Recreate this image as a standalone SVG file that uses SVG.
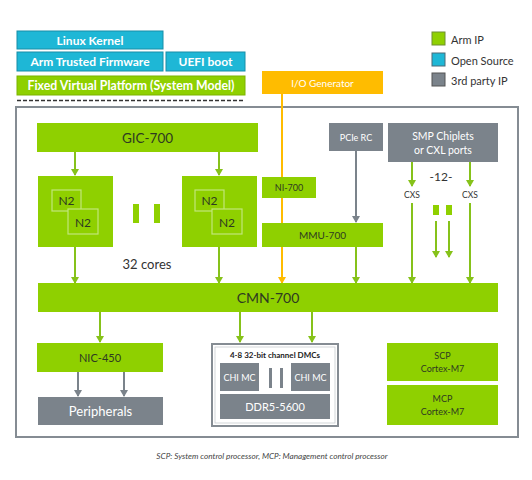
<svg xmlns="http://www.w3.org/2000/svg" width="532" height="480" viewBox="0 0 532 480">
<defs>
<style>
text{font-family:Lato,"Open Sans","Liberation Sans",sans-serif;text-anchor:middle;dominant-baseline:central}
.g{fill:#8fd000}
.gb{fill:#8fd000;stroke:#7cb300;stroke-width:1}
.c{fill:#1eb7d6;stroke:#178ea8;stroke-width:1}
.gr{fill:#7b838b}
.dk{fill:#2e3a20}
.wt{fill:#ffffff}
.n2{fill:#8fd000;stroke:#c2e67a;stroke-width:1.2}
.ag{stroke:#86c21a;stroke-width:2;fill:none}
.ao{stroke:#ffbc00;stroke-width:2;fill:none}
.ay{stroke:#7b838b;stroke-width:2;fill:none}
</style>
<marker id="mg" markerWidth="8" markerHeight="8" refX="6" refY="4" orient="auto" markerUnits="userSpaceOnUse"><path d="M0,0 L7,4 L0,8 Z" fill="#86c21a"/></marker>
<marker id="mo" markerWidth="8" markerHeight="8" refX="6" refY="4" orient="auto" markerUnits="userSpaceOnUse"><path d="M0,0 L7,4 L0,8 Z" fill="#ffbc00"/></marker>
<marker id="my" markerWidth="8" markerHeight="8" refX="6" refY="4" orient="auto" markerUnits="userSpaceOnUse"><path d="M0,0 L7,4 L0,8 Z" fill="#7b838b"/></marker>
</defs>
<rect width="532" height="480" fill="#ffffff"/>

<g id="sw-stack">
<rect class="c" x="17" y="31" width="146" height="18"/>
<text class="wt" x="90" y="40" font-size="12" font-weight="bold">Linux  Kernel</text>
<rect class="c" x="17" y="52" width="146" height="19"/>
<text class="wt" x="90" y="61.5" font-size="12" font-weight="bold">Arm Trusted Firmware</text>
<rect class="c" x="166" y="52" width="79" height="19"/>
<text class="wt" x="205.5" y="61.5" font-size="12" font-weight="bold">UEFI boot</text>
<rect class="gb" x="17" y="76" width="228" height="19"/>
<text class="wt" x="131" y="85.5" font-size="12.3" font-weight="bold">Fixed Virtual Platform (System Model)</text>
<line x1="17" y1="100.5" x2="245" y2="100.5" stroke="#333" stroke-width="1.5" stroke-dasharray="4,2"/>
</g>

<g id="legend">
<rect x="432" y="32" width="13" height="13" fill="#8fd000" stroke="#6f8f30"/>
<text x="451" y="39" font-size="11" fill="#333" style="text-anchor:start">Arm IP</text>
<rect x="432" y="53" width="13" height="13" fill="#1eb7d6" stroke="#4a6b78"/>
<text x="451" y="60" font-size="11" fill="#333" style="text-anchor:start">Open Source</text>
<rect x="432" y="73" width="13" height="13" fill="#7b838b" stroke="#555"/>
<text x="451" y="80" font-size="11" fill="#333" style="text-anchor:start">3rd party IP</text>
</g>

<g id="frame">
<rect x="16" y="107" width="502" height="330" fill="#ffffff" stroke="#858c93" stroke-width="2"/>
</g>

<g id="connectors">
<line class="ao" x1="282" y1="94" x2="282" y2="283" marker-end="url(#mo)"/>
<line class="ag" x1="75" y1="152" x2="75" y2="175" marker-end="url(#mg)"/>
<line class="ag" x1="219" y1="152" x2="219" y2="175" marker-end="url(#mg)"/>
<line class="ag" x1="75" y1="247" x2="75" y2="283" marker-end="url(#mg)"/>
<line class="ag" x1="219" y1="247" x2="219" y2="283" marker-end="url(#mg)"/>
<line class="ay" x1="356" y1="151" x2="356" y2="222" marker-end="url(#my)"/>
<line class="ag" x1="356" y1="247" x2="356" y2="283" marker-end="url(#mg)"/>
<line class="ag" x1="412" y1="162" x2="412" y2="186" marker-end="url(#mg)"/>
<line class="ag" x1="470" y1="162" x2="470" y2="186" marker-end="url(#mg)"/>
<line class="ag" x1="412" y1="203" x2="412" y2="283" marker-end="url(#mg)"/>
<line class="ag" x1="470" y1="203" x2="470" y2="283" marker-end="url(#mg)"/>
<line class="ag" x1="436" y1="221" x2="436" y2="257" marker-end="url(#mg)"/>
<line class="ag" x1="449" y1="221" x2="449" y2="257" marker-end="url(#mg)"/>
<line class="ag" x1="100" y1="312" x2="100" y2="342" marker-end="url(#mg)"/>
<line class="ag" x1="240" y1="312" x2="240" y2="342" marker-end="url(#mg)"/>
<line class="ag" x1="312" y1="312" x2="312" y2="342" marker-end="url(#mg)"/>
<line class="ay" x1="78" y1="372" x2="78" y2="396" marker-end="url(#my)"/>
<line class="ay" x1="124" y1="372" x2="124" y2="396" marker-end="url(#my)"/>
</g>

<g id="io-generator">
<rect x="262" y="71" width="121" height="23" fill="#ffbc00"/>
<text class="wt" x="322.5" y="82.5" font-size="10">I/O Generator</text>
</g>

<g id="gic-700">
<rect class="g" x="37" y="123" width="221" height="29"/>
<text class="dk" x="147.5" y="137.5" font-size="13.5">GIC-700</text>
</g>

<g id="cluster-left">
<rect class="g" x="38" y="176" width="75" height="71"/>
<rect class="n2" x="52" y="190" width="29" height="21"/>
<text class="dk" x="66.5" y="200.5" font-size="12">N2</text>
<rect class="n2" x="68" y="209" width="30" height="25"/>
<text class="dk" x="83" y="222" font-size="12">N2</text>
</g>

<g id="cluster-dots">
<rect class="g" x="133" y="204" width="6" height="19"/>
<rect class="g" x="154" y="204" width="6" height="19"/>
<text x="147" y="264" font-size="13" fill="#333">32 cores</text>
</g>

<g id="cluster-right">
<rect class="g" x="182" y="176" width="75" height="71"/>
<rect class="n2" x="195" y="190" width="29" height="21"/>
<text class="dk" x="209.5" y="200.5" font-size="12">N2</text>
<rect class="n2" x="212" y="209" width="30" height="25"/>
<text class="dk" x="227" y="222" font-size="12">N2</text>
</g>

<g id="ni-700">
<rect class="g" x="262" y="177" width="54" height="21"/>
<text class="dk" x="289" y="187.5" font-size="9">NI-700</text>
</g>

<g id="pcie-rc">
<rect class="gr" x="329" y="123" width="54" height="28"/>
<text class="wt" x="356" y="137" font-size="9">PCIe RC</text>
</g>

<g id="smp-chiplets">
<rect class="gr" x="388" y="123" width="110" height="39"/>
<text class="wt" x="443" y="136" font-size="10.5">SMP Chiplets</text>
<text class="wt" x="443" y="150" font-size="10.5">or CXL ports</text>
</g>

<g id="cxs">
<text x="441" y="176" font-size="12" fill="#333">-12-</text>
<text x="412" y="194.5" font-size="8.5" fill="#333">CXS</text>
<text x="470" y="194.5" font-size="8.5" fill="#333">CXS</text>
<rect class="g" x="433" y="205" width="6" height="10"/>
<rect class="g" x="446" y="205" width="6" height="10"/>
</g>

<g id="mmu-700">
<rect class="g" x="262" y="223" width="121" height="24"/>
<text class="dk" x="322.5" y="235" font-size="10">MMU-700</text>
</g>

<g id="cmn-700">
<rect class="g" x="38" y="283" width="460" height="29"/>
<text class="dk" x="268" y="297.5" font-size="14">CMN-700</text>
</g>

<g id="nic-450">
<rect class="g" x="37" y="343" width="126" height="29"/>
<text class="dk" x="100" y="357" font-size="11">NIC-450</text>
</g>

<g id="peripherals">
<rect class="gr" x="38" y="397" width="125" height="28"/>
<text class="wt" x="100.5" y="411" font-size="13">Peripherals</text>
</g>

<g id="dmc">
<rect x="212" y="344" width="126" height="82" fill="#ffffff" stroke="#858c93" stroke-width="2"/>
<rect x="215" y="347" width="120" height="76" fill="none" stroke="#c8ccd0" stroke-width="0.8"/>
<text x="275" y="355" font-size="8" font-weight="bold" fill="#222">4-8 32-bit channel DMCs</text>
<rect class="gr" x="220" y="363" width="39" height="28"/>
<text class="wt" x="239.5" y="377" font-size="9">CHI MC</text>
<rect class="gr" x="269" y="368" width="3" height="20"/>
<rect class="gr" x="280" y="368" width="3" height="20"/>
<rect class="gr" x="291" y="363" width="39" height="28"/>
<text class="wt" x="310.5" y="377" font-size="9">CHI MC</text>
<rect class="gr" x="220" y="394" width="110" height="25"/>
<text class="wt" x="275" y="406.5" font-size="11">DDR5-5600</text>
</g>

<g id="scp">
<rect class="g" x="387" y="343" width="111" height="38"/>
<text class="dk" x="442.5" y="355" font-size="9">SCP</text>
<text class="dk" x="442.5" y="368" font-size="9">Cortex-M7</text>
</g>

<g id="mcp">
<rect class="g" x="387" y="385" width="111" height="40"/>
<text class="dk" x="442.5" y="398" font-size="9">MCP</text>
<text class="dk" x="442.5" y="411" font-size="9">Cortex-M7</text>
</g>

<text x="272" y="456" font-size="8.2" font-style="italic" fill="#444">SCP: System control processor, MCP: Management control processor</text>
</svg>
